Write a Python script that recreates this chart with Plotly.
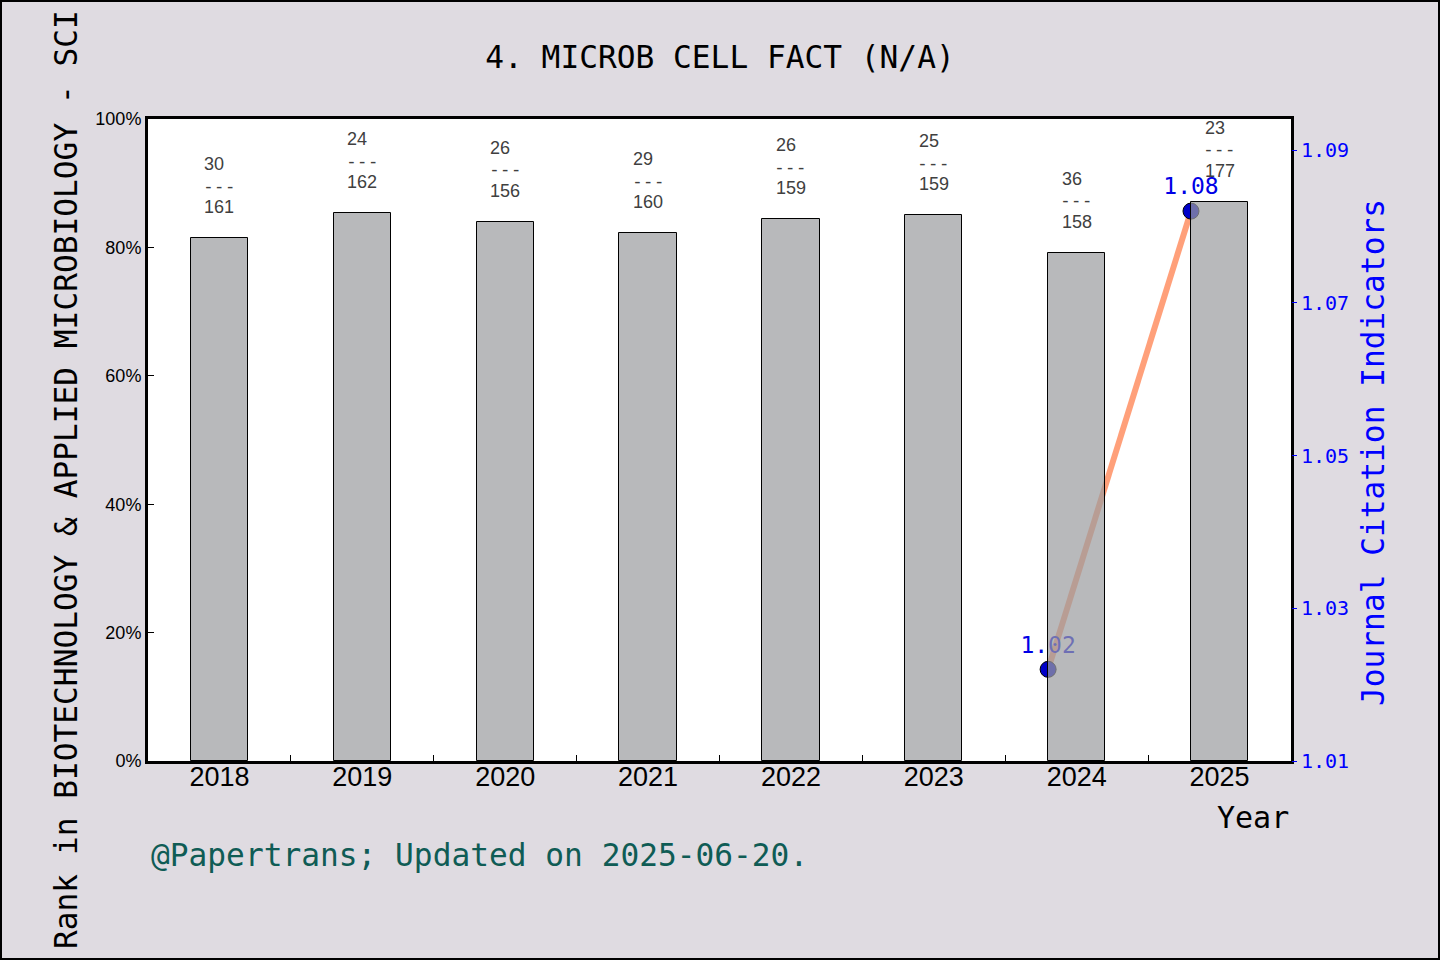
import plotly.graph_objects as go

# ---- data ----
years = ["2018", "2019", "2020", "2021", "2022", "2023", "2024", "2025"]
ranks = [30, 24, 26, 29, 26, 25, 36, 23]
totals = [161, 162, 156, 160, 159, 159, 158, 177]
rank_pct = [81.4, 85.3, 84.0, 82.2, 84.4, 85.0, 79.2, 87.1]
jci_years = ["2024", "2025"]
jci_values = [1.022, 1.082]
pct_ticks = [0, 20, 40, 60, 80, 100]
jci_ticks = [1.01, 1.03, 1.05, 1.07, 1.09]

# ---- layout constants ----
W, H = 1440, 960
ML, MR, MT, MB = 148, 149, 119, 199
PW, PH = W - ML - MR, H - MT - MB
BAR_W = 0.4
MONO = "DejaVu Sans Mono"
SANS = "Liberation Sans"
BIG = 31.2


def px_x(px):
    return (px - ML) / PW


def px_y(py):
    return (H - MB - py) / PH


idx = list(range(len(years)))
line_x = [years.index(y) - BAR_W / 2 for y in jci_years]

fig = go.Figure()

# line (base axis, drawn beneath the bars)
fig.add_trace(go.Scatter(
    x=line_x, y=jci_values, xaxis="x", yaxis="y",
    mode="lines+markers+text",
    line=dict(color="#ffa07a", width=6),
    marker=dict(size=16, color="#0000c8", line=dict(color="#000000", width=1)),
    text=[f"{v:.2f}" for v in jci_values],
    textposition="top center",
    textfont=dict(family=MONO, size=23, color="#0000e6"),
    showlegend=False, hoverinfo="skip",
))

# bars (overlay axis, drawn on top)
fig.add_trace(go.Bar(
    x=idx, y=rank_pct, xaxis="x", yaxis="y2", width=BAR_W,
    marker=dict(color="rgba(155,156,159,0.71)", line=dict(color="#000000", width=1)),
    showlegend=False, hoverinfo="skip",
))

annotations = []
for i, (r, t, p) in enumerate(zip(ranks, totals, rank_pct)):
    for txt, shift, fam in ((str(t), 31, SANS), ("---", 53, MONO), (str(r), 74, SANS)):
        annotations.append(dict(
            x=i, y=p, xref="x", yref="y2", yanchor="middle", xanchor="center",
            text=txt, showarrow=False, yshift=shift,
            font=dict(family=fam, size=18, color="#404040"),
            xshift=-5 if txt == str(r) and len(txt) == 2 else 0,
        ))

annotations += [
    dict(x=px_x(66), y=px_y(H / 2), xref="paper", yref="paper",
         text="Rank in BIOTECHNOLOGY & APPLIED MICROBIOLOGY - SCI", textangle=-90,
         showarrow=False, font=dict(family=MONO, size=BIG, color="#000000"),
         xanchor="center", yanchor="middle"),
    dict(x=px_x(1373), y=px_y(452), xref="paper", yref="paper",
         text="Journal Citation Indicators", textangle=-90,
         showarrow=False, font=dict(family=MONO, size=BIG, color="#0000ff"),
         xanchor="center", yanchor="middle"),
    dict(x=1, y=px_y(817), xref="paper", yref="paper", text="Year",
         showarrow=False, font=dict(family=MONO, size=30, color="#000000"),
         xanchor="right", yanchor="middle"),
    dict(x=px_x(149), y=px_y(855), xref="paper", yref="paper",
         text="@Papertrans; Updated on 2025-06-20.",
         showarrow=False, font=dict(family=MONO, size=BIG, color="#0f5c55"),
         xanchor="left", yanchor="middle"),
]

fig.update_layout(
    width=W, height=H,
    margin=dict(l=ML, r=MR, t=MT, b=MB),
    paper_bgcolor="#dfdbe1", plot_bgcolor="#ffffff",
    title=dict(text="4. MICROB CELL FACT (N/A)", x=0.5, xanchor="center",
               y=1 - 57 / H, yanchor="middle",
               font=dict(family=MONO, size=BIG, color="#000000")),
    xaxis=dict(
        range=[-0.5, len(years) - 0.5], tickvals=idx, ticktext=years,
        ticks="", showgrid=False, zeroline=False,
        showline=True, linewidth=3, linecolor="#000000", mirror=True,
        tickfont=dict(family=SANS, size=27, color="#000000"),
        ticklabelstandoff=-10,
        minor=dict(tickvals=[i + 0.5 for i in idx[:-1]], ticks="inside",
                   ticklen=6, tickwidth=1, tickcolor="#000000", showgrid=False),
        anchor="y",
    ),
    yaxis=dict(
        side="right", range=[1.01, 1.09406], tickvals=jci_ticks,
        ticktext=[f"{v:.2f}" for v in jci_ticks],
        ticks="outside", ticklen=5, tickcolor="#0000ff", tickwidth=1,
        tickfont=dict(family=MONO, size=20, color="#0000ff"),
        showgrid=False, zeroline=False, showline=False, anchor="x",
    ),
    yaxis2=dict(
        side="left", overlaying="y", range=[0, 100], tickvals=pct_ticks,
        ticktext=[f"{v}%" for v in pct_ticks],
        ticks="inside", ticklen=6, tickcolor="#000000", tickwidth=1,
        tickfont=dict(family=SANS, size=18, color="#000000"),
        showgrid=False, zeroline=False,
        showline=True, linewidth=3, linecolor="#000000", mirror=True,
        anchor="x",
    ),
    annotations=annotations,
    shapes=[dict(type="rect", xref="paper", yref="paper",
                 x0=px_x(1), x1=px_x(W - 1), y0=px_y(H - 1), y1=px_y(1),
                 line=dict(color="#000000", width=2), fillcolor="rgba(0,0,0,0)",
                 layer="above")],
    bargap=0,
)

fig.write_html("out.html")
